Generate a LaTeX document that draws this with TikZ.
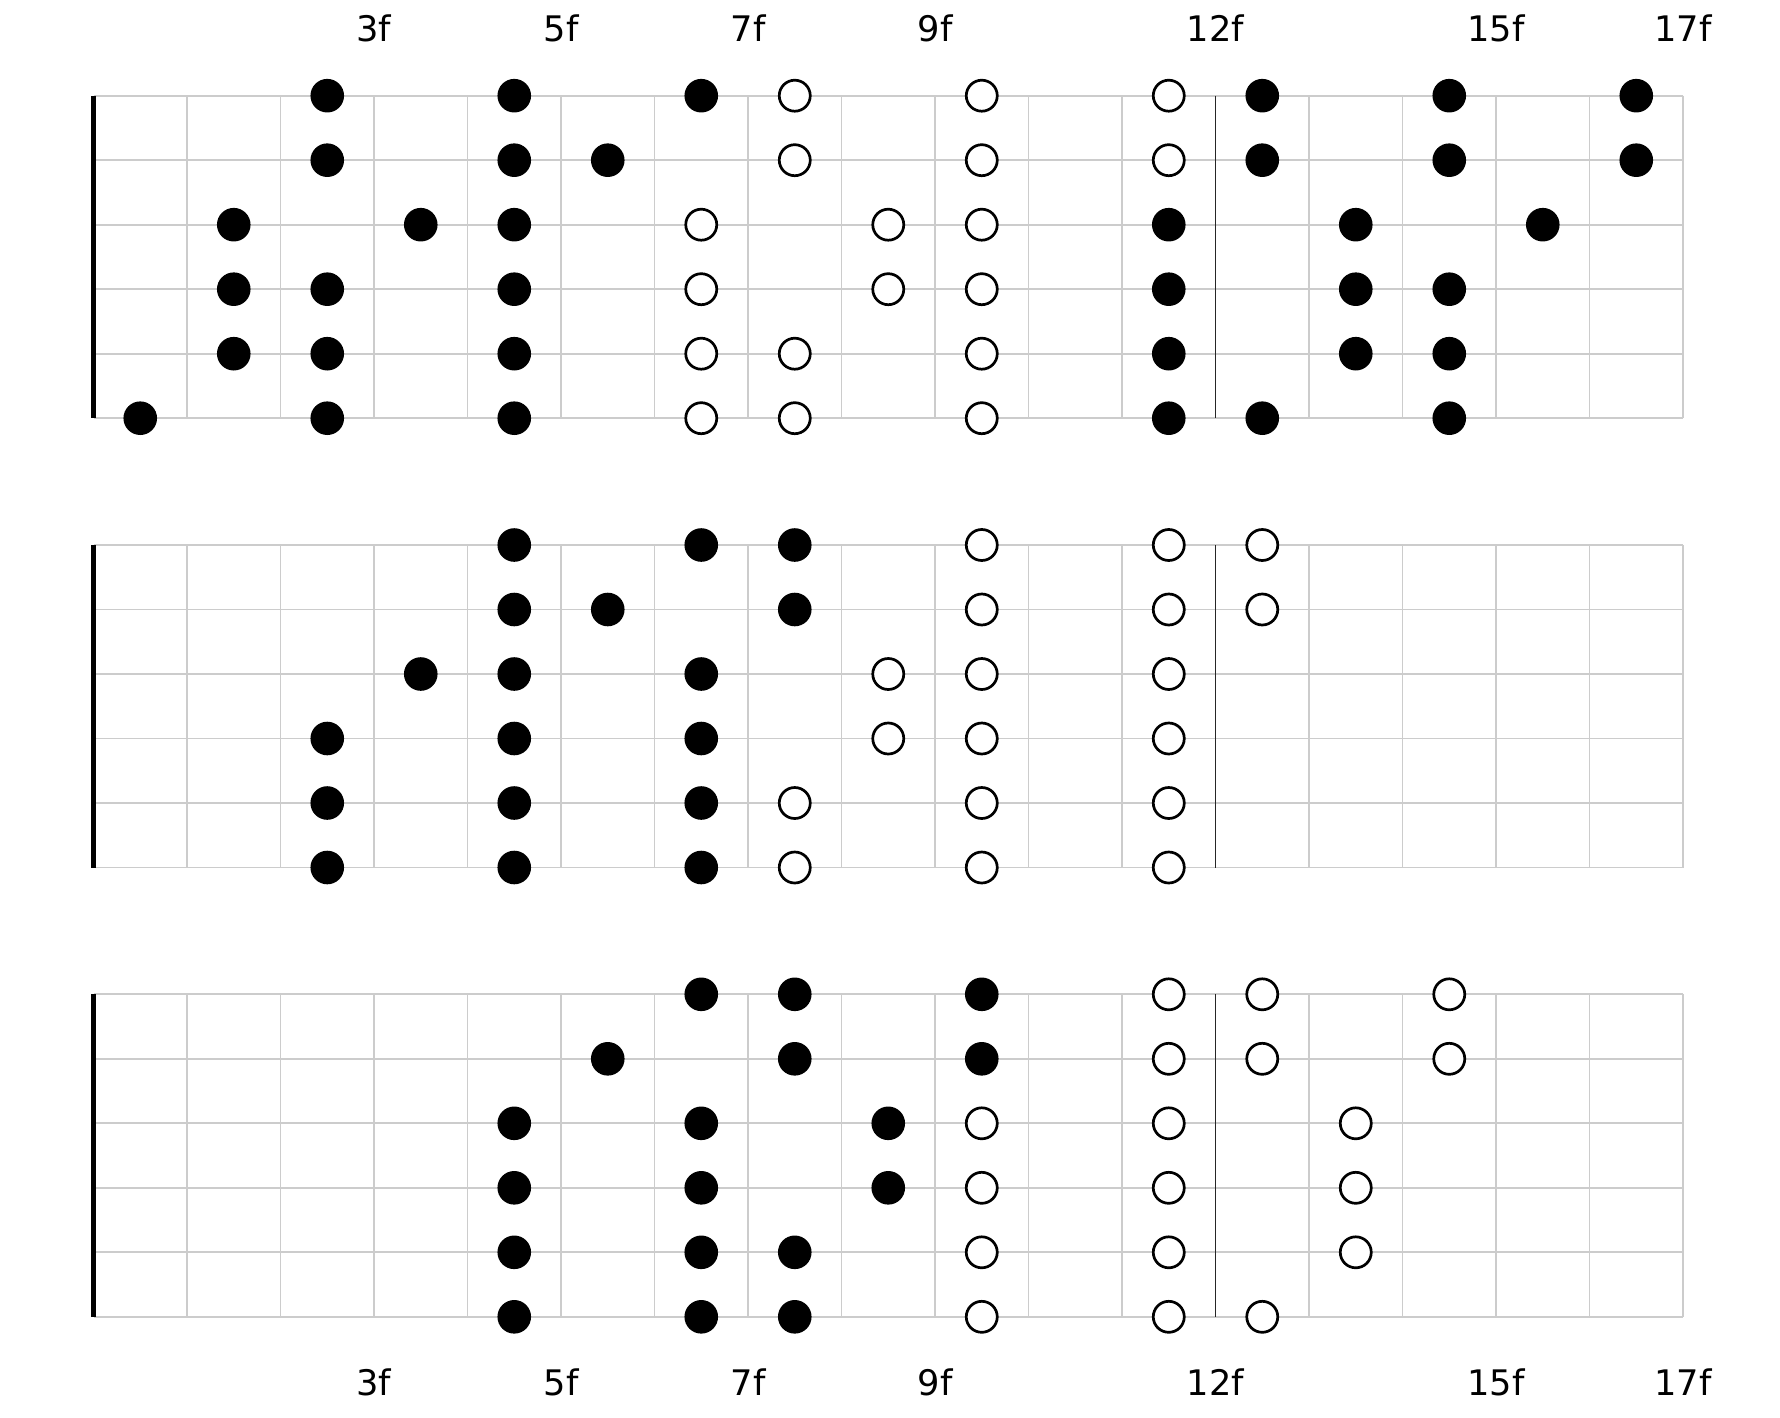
\documentclass[tikz,border=0pt]{standalone}
\usepackage{fontspec}
\setmainfont{DejaVu Sans}
\begin{document}
\begin{tikzpicture}[x=0.5pt,y=-0.5pt,
  stringline/.style={draw=black!20, line width=0.9pt},
  fretline/.style={draw=black!20, line width=0.9pt},
  twelfthline/.style={draw=black!85, line width=0.65pt},
  nutline/.style={draw=black, line width=2.2pt},
  filleddot/.style={fill=black},
  opendot/.style={draw=black, line width=1.35pt, fill=white},
  fretlabel/.style={inner sep=0pt, anchor=base, font=\fontsize{17.6}{20}\selectfont}]
\useasboundingbox (0,0) rectangle (1780,1417);
\fill[white] (0,0) rectangle (1780,1417);
% fretboards
\foreach \bt in {95.7,545,994.3} {
  \foreach \s in {0,...,5}
    \draw[stringline] (93.5,{\bt+\s*64.5}) -- (1683,{\bt+\s*64.5});
  \foreach \f in {1,...,17}
    \draw[fretline] ({93.5+\f*93.5},\bt) -- ({93.5+\f*93.5},{\bt+322.5});
  \draw[twelfthline] (1215.5,\bt) -- (1215.5,{\bt+322.5});
  \draw[nutline] (93.5,\bt) -- (93.5,{\bt+322.5});
}
% board 1
\foreach \c/\r in {3/1,5/1,7/1,13/1,15/1,17/1,
                   3/2,5/2,6/2,13/2,15/2,17/2,
                   2/3,4/3,5/3,12/3,14/3,16/3,
                   2/4,3/4,5/4,12/4,14/4,15/4,
                   2/5,3/5,5/5,12/5,14/5,15/5,
                   1/6,3/6,5/6,12/6,13/6,15/6}
  \path[filleddot] ({46.75+\c*93.5},{95.7+(\r-1)*64.5}) circle[radius=8.4pt];
\foreach \c/\r in {8/1,10/1,12/1, 8/2,10/2,12/2, 7/3,9/3,10/3,
                   7/4,9/4,10/4, 7/5,8/5,10/5, 7/6,8/6,10/6}
  \path[opendot] ({46.75+\c*93.5},{95.7+(\r-1)*64.5}) circle[radius=7.75pt];
% board 2
\foreach \c/\r in {5/1,7/1,8/1, 5/2,6/2,8/2, 4/3,5/3,7/3,
                   3/4,5/4,7/4, 3/5,5/5,7/5, 3/6,5/6,7/6}
  \path[filleddot] ({46.75+\c*93.5},{545+(\r-1)*64.5}) circle[radius=8.4pt];
\foreach \c/\r in {10/1,12/1,13/1, 10/2,12/2,13/2, 9/3,10/3,12/3,
                   9/4,10/4,12/4, 8/5,10/5,12/5, 8/6,10/6,12/6}
  \path[opendot] ({46.75+\c*93.5},{545+(\r-1)*64.5}) circle[radius=7.75pt];
% board 3
\foreach \c/\r in {7/1,8/1,10/1, 6/2,8/2,10/2, 5/3,7/3,9/3,
                   5/4,7/4,9/4, 5/5,7/5,8/5, 5/6,7/6,8/6}
  \path[filleddot] ({46.75+\c*93.5},{994.3+(\r-1)*64.5}) circle[radius=8.4pt];
\foreach \c/\r in {12/1,13/1,15/1, 12/2,13/2,15/2, 10/3,12/3,14/3,
                   10/4,12/4,14/4, 10/5,12/5,14/5, 10/6,12/6,13/6}
  \path[opendot] ({46.75+\c*93.5},{994.3+(\r-1)*64.5}) circle[radius=7.75pt];
% fret labels
\foreach \f in {3,5,7,9,12,15,17} {
  \node[fretlabel] (top\f) at ({93.5+\f*93.5},41.7) {\f f};
  \node[fretlabel] (bot\f) at ({93.5+\f*93.5},1395) {\f f};
}
\end{tikzpicture}
\end{document}
